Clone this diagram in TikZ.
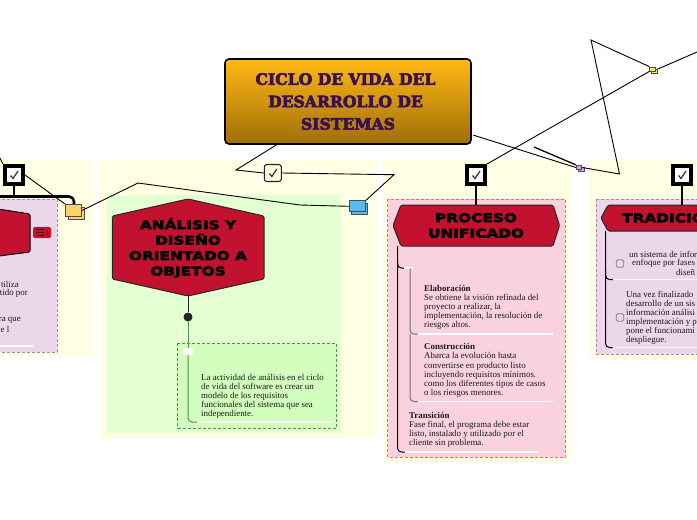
\documentclass[tikz,border=0pt]{standalone}
\usepackage{fontspec}
\setmainfont{Liberation Serif}
\newfontfamily\titlef[FakeBold=4]{DejaVu Serif Bold}
\newfontfamily\headf[FakeBold=5,FakeStretch=1.3]{DejaVu Sans Bold}
\usetikzlibrary{calc}
\definecolor{panelY}{HTML}{FFFFE4}
\definecolor{panelG}{HTML}{E4FFD2}
\definecolor{boxG}{HTML}{D2FFBE}
\definecolor{boxP}{HTML}{FAD2DE}
\definecolor{boxL}{HTML}{EBD7E9}
\definecolor{redN}{HTML}{C3122F}
\definecolor{purp}{HTML}{3A1050}
\definecolor{iconP}{HTML}{E0A0DC}
\definecolor{iconO}{HTML}{F0F060}
\newcommand{\chk}[1]{\draw[draw=black!75,line width=1.3pt] ($(#1.center)+(-3.5,0.5)$) -- ($(#1.center)+(-1,3.5)$) -- ($(#1.center)+(4,-4)$);}
\tikzset{
  conn/.style={draw=black,line width=0.9pt},
  thick conn/.style={draw=black,line width=2.6pt},
  branch/.style={draw=black,line width=1pt,rounded corners=4pt},
  gbranch/.style={draw=black!55,line width=1pt,rounded corners=4pt},
  whiteline/.style={draw=white,line width=1.3pt},
  panel/.style={fill=panelY,draw=none},
  dashbox/.style={line width=0.9pt,dash pattern=on 3pt off 2pt},
  checkbox/.style={draw=black,line width=3.6pt,fill=white,minimum size=18.5pt,inner sep=0pt},
  hexa/.style={fill=redN,draw=black!85,line width=1pt,rounded corners=1.5pt},
  body/.style={font=\fontsize{8.9}{9.1}\selectfont,inner sep=0pt,anchor=north west,align=left,text=black!90},
  frag/.style={font=\fontsize{8.9}{9.1}\selectfont,inner sep=0pt,text=black!90},
  headtxt/.style={font=\headf\fontsize{11.8}{15.4}\selectfont,align=center,inner sep=0pt,text=black},
  mini/.style={draw=black!70,line width=0.8pt,inner sep=0pt},
  tick/.style={draw=black!50,line width=0.9pt,fill=none,rounded corners=1.5pt,minimum size=7.5pt,inner sep=0pt},
}
\begin{document}
\begin{tikzpicture}[x=1pt,y=-1pt]
\clip (0,0) rectangle (697,520);
\fill[white] (0,0) rectangle (697,520);
% panels
\fill[panel] (0,159) rectangle (93,357);
\fill[panel] (99,159) rectangle (377,438);
\fill[panel] (383,159) rectangle (571,462);
\fill[panel] (590,159) rectangle (697,359);
\fill[panelG] (107,195) rectangle (341,433);
\draw[dashbox,fill=boxG,draw=black!30!green!45!gray] (177.5,343) rectangle (336,428);
\draw[dashbox,fill=boxP,draw=red!50!pink] (387.5,199) rectangle (565,457);
\draw[dashbox,fill=boxL,draw=violet!35!gray!70] (596,199) rectangle (700,354);
\draw[dashbox,fill=boxL,draw=violet!35!gray!70] (-5,199) rectangle (57,352);

% bend points
\coordinate (lA) at (0,158);
\coordinate (a1) at (138,183);
\coordinate (a2) at (300,205);
\coordinate (b1) at (236,170);
\coordinate (b2) at (394,174.7);
\coordinate (c1) at (534,147);
\coordinate (d1) at (619.5,174);
\coordinate (d2) at (591,40);
\coordinate (rE) at (697,52);
\coordinate (tS) at (277,144.5);
\coordinate (tR) at (473,135);

% central node
\node[draw=black,line width=1.6pt,rounded corners=4pt,
  shade,top color={rgb,255:red,255;green,185;blue,20},bottom color={rgb,255:red,160;green,110;blue,8},
  minimum width=246pt,minimum height=85pt,inner sep=0pt,
  font=\titlef\fontsize{15.6}{22.4}\selectfont,text=purp,align=center] (title) at (348,101.5) {\hspace*{-5pt}CICLO DE VIDA DEL\\\hspace*{-5pt}DESARROLLO DE\\SISTEMAS};

% check nodes
\node[checkbox] (chkL) at (14,175) {};
\node[checkbox] (chkP) at (476,175) {};
\node[checkbox] (chkT) at (682,175) {};
\node[draw=purp,line width=1.1pt,fill=yellow!15,rounded corners=2.5pt,minimum size=17pt,inner sep=0pt] (chkA) at (272.8,173) {};
\chk{chkL}\chk{chkP}\chk{chkT}\chk{chkA}

% grouped icons
\node[mini,fill={rgb,255:red,247;green,210;blue,110},minimum width=16pt,minimum height=12pt] (icYb) at (76,213) {};
\node[mini,fill={rgb,255:red,247;green,210;blue,110},minimum width=16pt,minimum height=12pt] (icY) at (73.5,210.5) {};
\node[mini,fill={rgb,255:red,91;green,185;blue,238},minimum width=16pt,minimum height=11pt] (icBb) at (359.5,208.5) {};
\node[mini,fill={rgb,255:red,91;green,185;blue,238},minimum width=16pt,minimum height=11pt] (icB) at (357.5,206.3) {};
\node[mini,fill=iconP,minimum width=5.5pt,minimum height=4.5pt] (icPb) at (581.5,169.5) {};
\node[mini,fill=iconP,minimum width=5.5pt,minimum height=4.5pt] (icP) at (579,167.5) {};
\node[mini,fill=iconO,minimum width=5.5pt,minimum height=4pt] (icOb) at (654.5,71.5) {};
\node[mini,fill=iconO,minimum width=5.5pt,minimum height=4pt] (icO) at (652.5,69) {};

% thin connectors
\draw[conn] (lA) -- (chkL.north west);
\draw[conn] (chkL.east) -- (icY.north west);
\draw[conn] (icY.east) -- (a1) -- (a2) -- (icB.west);
\draw[conn] (icB.north east) -- (b2) -- (chkA.east);
\draw[conn] (chkA.west) -- (b1) -- (tS);
\draw[conn] (tR) -- (icP.west);
\draw[conn,line width=1.3pt] (c1) -- (icP.north west);
\draw[conn] (chkP.north east) -- (icO.south west);
\draw[conn] (icP.east) -- (d1) -- (d2) -- (icO.north west);
\draw[conn] (icOb.north east) -- (rE);

% thick connectors
\draw[thick conn] (chkL.south) -- (14,196.5);
\draw[thick conn,rounded corners=5pt] (-3,196.5) -- (74,196.5) -- (74,204);
\draw[thick conn] (chkP.south) -- (476,205);
\draw[thick conn] (chkT.south) -- (682,205);

% left fragment
\fill[redN,draw=black,line width=1pt,rounded corners=1.5pt] (-5,208.5) -- (30,214) -- (30,252) -- (-5,256.5) -- cycle;
\node[fill=redN,rounded corners=1.5pt,minimum width=18pt,minimum height=11pt,inner sep=0pt] (badge) at (42,232.5) {};
\draw[black,line width=0.8pt] (37,229.5) -- (44,229.5) (37,232.5) -- (44,232.5) (37,235.5) -- (44,235.5);
\node[font=\fontsize{6.5}{7}\selectfont,inner sep=0pt] at (47.8,233) {1};
\node[frag,anchor=east] at (19,284) {tiliza};
\node[frag,anchor=east] at (28,293.5) {tido por};
\node[frag,anchor=east] at (21,320) {ra que};
\node[frag,anchor=west] at (0.5,329) {e l};
\draw[whiteline] (0,346) -- (33,346);

% analysis hexagon
\draw[hexa] (112.3,216) -- (188,199) -- (264,216) -- (264,279) -- (188,296) -- (112.3,279) -- cycle;
\node[headtxt] (hexA) at (188,248) {ANÁLISIS Y\\DISEÑO\\ORIENTADO A\\OBJETOS};
\coordinate (hexAb) at (188,296);
\node[circle,fill=black!85,minimum size=9pt,inner sep=0pt] (dotA) at (188,317) {};
\node[fill=white,minimum width=11pt,minimum height=7pt,inner sep=0pt] (noteA) at (188,351.5) {};
\draw[draw=black!85,line width=1pt] (hexAb) -- (dotA);
\draw[draw=black!30!green!35!gray,line width=1pt] (dotA) -- (noteA);
\coordinate (noteAb) at (188,355);
\coordinate (noteAe) at (197,422);
\draw[gbranch,draw=black!30!green!35!gray] (noteAb) |- (noteAe);
\draw[whiteline] (197,422) -- (331,422);
\node[body] (txtA) at (201,374) {La actividad de análisis en el ciclo\\de vida del software es crear un\\modelo de los requisitos\\funcionales del sistema que sea\\independiente.};

% process hexagon
\draw[hexa] (393,225.5) -- (401,205) -- (553,205) -- (559.5,225.5) -- (553,246) -- (401,246) -- cycle;
\node[headtxt] (hexP) at (476,225.5) {PROCESO\\UNIFICADO};
\draw[branch] (397.5,246) -- (397.5,452) -- (405,452);
\draw[branch] (397.5,262) -- (397.5,268) -- (404,268);
\draw[whiteline] (404,268) -- (413,268);
\draw[whiteline] (405,452) -- (538,452);
\draw[gbranch] (410,268) -- (410,334) -- (418,334);
\draw[gbranch] (410,334) -- (410,401.5) -- (418,401.5);
\draw[whiteline] (418,334) -- (553,334);
\draw[whiteline] (418,401.5) -- (553,401.5);
\node[body] (txtE) at (424,285) {\textbf{Elaboración}\\Se obtiene la visión refinada del\\proyecto a realizar, la\\implementación, la resolución de\\riesgos altos.};
\node[body] (txtC) at (424,343.5) {\textbf{Construcción}\\Abarca la evolución hasta\\convertirse en producto listo\\incluyendo requisitos mínimos.\\como los diferentes tipos de casos\\o los riesgos menores.};
\node[body] (txtT) at (409,412) {\textbf{Transición}\\Fase final, el programa debe estar\\listo, instalado y utilizado por el\\cliente sin problema.};

% traditional
\draw[hexa] (705,205) -- (608,205) -- (601,218) -- (608,231) -- (705,231);
\node[headtxt,anchor=west] (hexT) at (622,218) {TRADICIO};
\draw[branch] (605.5,231) -- (605.5,347.5) -- (613,347.5);
\draw[branch] (605.5,270) -- (605.5,279.5) -- (613,279.5);
\draw[whiteline] (613,279.5) -- (697,279.5);
\draw[whiteline] (613,347.5) -- (697,347.5);
\node[tick] (tk1) at (620,263.5) {};
\node[tick] (tk2) at (620,317.5) {};
\node[frag,anchor=west] at (629,254.7) {un sistema de infor};
\node[frag,anchor=west] at (632,263.7) {enfoque por fases};
\node[frag,anchor=west] at (676,272.7) {diseñ};
\node[body] at (626,291) {Una vez finalizado\\desarrollo de un sis\\información análisi\\implementación y p\\pone el funcionami\\despliegue.};
\end{tikzpicture}
\end{document}
